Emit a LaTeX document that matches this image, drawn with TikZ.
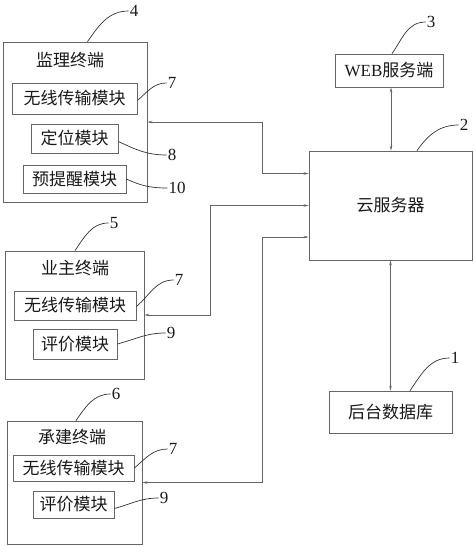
\documentclass[tikz,border=0pt]{standalone}
\usepackage{fontspec}
\setmainfont{Liberation Serif}
\newfontfamily\cjk{Noto Sans CJK SC}
\usetikzlibrary{arrows.meta,calc}
\begin{document}
\begin{tikzpicture}[x=1pt,y=-1pt,
  box/.style={draw=black!60,line width=0.8pt,inner sep=0pt,font=\cjk\fontsize{17}{17}\selectfont,text=black!90},
  ttl/.style={inner sep=0pt,font=\cjk\fontsize{17}{17}\selectfont,text=black!90},
  arr/.style={draw=black!60,line width=0.7pt,{Stealth[length=5pt,width=2.6pt]}-{Stealth[length=5pt,width=2.6pt]}},
  lead/.style={draw=black!80,line width=0.7pt},
  num/.style={font=\fontsize{17}{17}\selectfont,text=black!90,inner sep=1pt}]
\useasboundingbox (0,0) rectangle (474,546);
% terminal 4
\node[box,minimum width=144pt,minimum height=160pt] (b4) at (75,122) {};
\node[ttl] (t4) at (70,60) {监理终端};
\node[box,minimum width=125pt,minimum height=31pt] (b4a) at (74.5,98.5) {无线传输模块};
\node[box,minimum width=87pt,minimum height=29pt] (b4b) at (74.5,138.5) {定位模块};
\node[box,minimum width=103pt,minimum height=28pt] (b4c) at (74.5,179) {预提醒模块};
% terminal 5
\node[box,minimum width=139pt,minimum height=128pt] (b5) at (74.5,315) {};
\node[ttl] (t5) at (75,268) {业主终端};
\node[box,minimum width=122pt,minimum height=29pt] (b5a) at (75,305.5) {无线传输模块};
\node[box,minimum width=84pt,minimum height=30pt] (b5b) at (75,344) {评价模块};
% terminal 6
\node[box,minimum width=135pt,minimum height=123pt] (b6) at (74.5,482.5) {};
\node[ttl] (t6) at (72,437) {承建终端};
\node[box,minimum width=121pt,minimum height=26pt] (b6a) at (73.5,468) {无线传输模块};
\node[box,minimum width=81pt,minimum height=27pt] (b6b) at (73.5,504.5) {评价模块};
% right column
\node[box,minimum width=163pt,minimum height=109pt] (cloud) at (390.5,205.5) {云服务器};
\node[box,minimum width=108pt,minimum height=33pt] (web) at (389,70.5) {{\rmfamily WEB}服务端};
\node[box,minimum width=123pt,minimum height=42pt] (db) at (390.5,412) {后台数据库};
% connectors
\draw[arr] ([xshift=2pt]web.south) -- ([xshift=2pt]web.south |- cloud.north);
\draw[arr] (cloud.south) -- (cloud.south |- db.north);
\draw[arr] (b4.east) -- (262,122) |- ([yshift=32pt]cloud.west);
\draw[arr] (b5.east) -- (210,315) |- (cloud.west);
\draw[arr] (b6.east) -- (262,482.5) |- ([yshift=-31.5pt]cloud.west);
% numbers
\node[num] (n4) at (134,11) {4};
\node[num] (n7a) at (172,83) {7};
\node[num] (n8) at (172,155) {8};
\node[num] (n10) at (177,188) {10};
\node[num] (n3) at (431,22) {3};
\node[num] (n2) at (464,125) {2};
\node[num] (n5) at (114,223) {5};
\node[num] (n7b) at (179,280) {7};
\node[num] (n9b) at (171,333) {9};
\node[num] (n6) at (116,394) {6};
\node[num] (n7c) at (173,449) {7};
\node[num] (n9c) at (164,498) {9};
\node[num] (n1) at (455,358) {1};
% leaders
\draw[lead] ([xshift=12.5pt]b4.north) to[out=55,in=180] (n4.west);
\draw[lead] ([yshift=-2pt]b4a.east) to[out=40,in=180] (n7a.west);
\draw[lead] ([yshift=-3pt]b4b.east) to[out=-25,in=180] (n8.west);
\draw[lead] (b4c.east) to[out=-25,in=180] (n10.west);
\draw[lead] ([xshift=3pt]web.north) to[out=55,in=180] (n3.west);
\draw[lead] ([xshift=26.5pt]cloud.north) to[out=55,in=180] (n2.west);
\draw[lead] ([xshift=0.5pt]b5.north) to[out=55,in=180] (n5.west);
\draw[lead] ([yshift=-1pt]b5a.east) to[out=40,in=180] (n7b.west);
\draw[lead] (b5b.east) to[out=15,in=180] (n9b.west);
\draw[lead] ([xshift=1.5pt]b6.north) to[out=55,in=180] (n6.west);
\draw[lead] (b6a.east) to[out=40,in=180] (n7c.west);
\draw[lead] ([yshift=-4pt]b6b.east) to[out=15,in=180] (n9c.west);
\draw[lead] ([xshift=19.5pt]db.north) to[out=55,in=180] (n1.west);
\end{tikzpicture}
\end{document}
